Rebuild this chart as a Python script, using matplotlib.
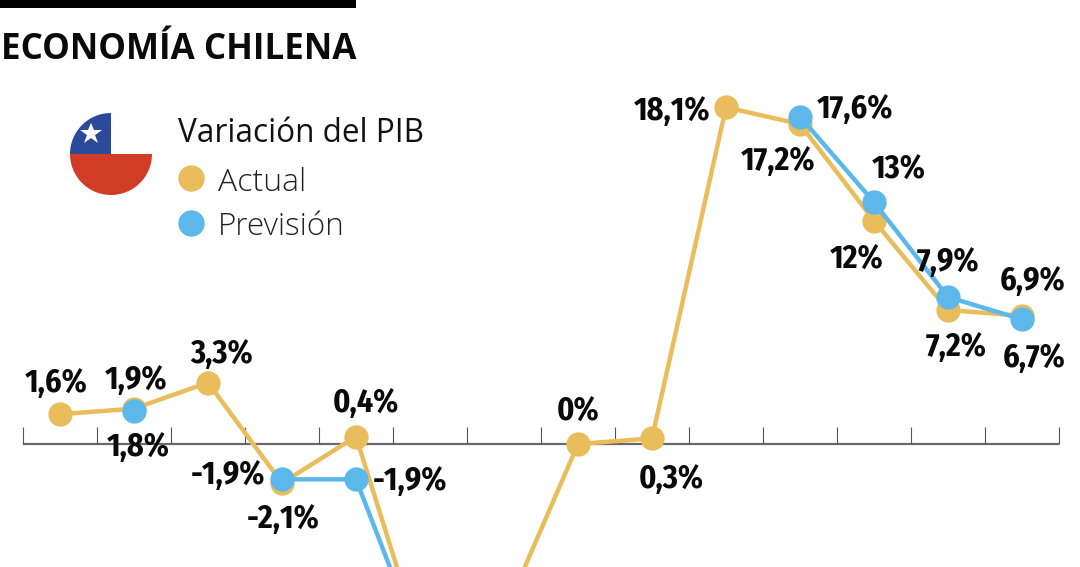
import numpy as np
import matplotlib
matplotlib.use("Agg")
import matplotlib.pyplot as plt
from matplotlib.patches import Wedge, Rectangle

# Variacion trimestral del PIB, datos observados y prevision
actual = [1.6, 1.9, 3.3, -2.1, 0.4, -12.3, -9.2, 0, 0.3, 18.1, 17.2, 12, 7.2, 6.9]
prevision = [np.nan, 1.8, np.nan, -1.9, -1.9, -12.2, np.nan, np.nan, np.nan, np.nan, 17.6, 13, 7.9, 6.7]

titulo = "ECONOMÍA CHILENA"
leyenda_titulo = "Variación del PIB"
nombre_actual = "Actual"
nombre_prevision = "Previsión"

# Indices con etiqueta y su desplazamiento en pixeles (x, y hacia abajo)
offs_actual = {0: (-4, -33), 1: (2, -31), 2: (14, -31), 3: (1.5, 34), 4: (10, -36),
               7: (0, -34), 8: (19, 39), 9: (-54, 2), 10: (-22, 35), 11: (-17, 37),
               12: (8, 35), 13: (11, -37)}
offs_prevision = {1: (4, 34), 3: (-54, -6), 4: (53.5, 0), 10: (55, -10), 11: (25, -34),
                  12: (0, -37), 13: (12, 37)}

AMARILLO = "#e9bd5c"
AZUL = "#5cb8ea"
GRIS = "#6a6a6a"
fuente_num = ["Fira Sans Condensed", "Liberation Sans"]

fig = plt.figure(figsize=(10.8, 5.67), dpi=100)
fig.patch.set_facecolor("white")

# Eje principal: 74 px por trimestre, 18.6 px por punto porcentual
ax = fig.add_axes([0, 0, 1, 1])
ax.set_xlim(-60 / 74, (1080 - 60) / 74)
ax.set_ylim(-(567 - 444) / 18.6, 444 / 18.6)
ax.axis("off")

n = len(actual)
bordes = np.arange(n + 1) - 0.5
ax.plot([bordes[0], bordes[-1]], [0, 0], color=GRIS, lw=1.6, zorder=1, solid_capstyle="butt")
ax.vlines(bordes, 0, 17 / 18.6, color="#555555", lw=0.8, zorder=1)

x = np.arange(n)
ax.plot(x, actual, color=AMARILLO, lw=3.2, marker="o", ms=17.5, mew=0, zorder=2)
ax.plot(x, prevision, color=AZUL, lw=3.2, marker="o", ms=17.5, mew=0, zorder=3)


def etiqueta(valor):
    return f"{valor:g}".replace(".", ",") + "%"


for serie, offs in [(actual, offs_actual), (prevision, offs_prevision)]:
    for i, (dx, dy) in offs.items():
        ax.annotate(etiqueta(serie[i]), (i, serie[i]), xytext=(dx, -(dy + 11)),
                    textcoords="offset pixels", ha="center", va="baseline",
                    fontsize=23, fontweight="bold", family=fuente_num, color="#0a0a0a", zorder=4)

# Capa en pixeles para la cabecera, la bandera y la leyenda
deco = fig.add_axes([0, 0, 1, 1])
deco.set_xlim(0, 1080)
deco.set_ylim(567, 0)
deco.axis("off")
deco.patch.set_alpha(0)

deco.add_patch(Rectangle((0, 0), 356, 8, color="black", lw=0))
deco.text(1, 59, titulo, fontsize=25.2, fontweight="bold", family="Open Sans",
          color="#0a0a0a", ha="left", va="baseline")

deco.add_patch(Wedge((111, 154), 41, 0, 180, color="#d13c26", lw=0))
deco.add_patch(Wedge((111, 154), 41, 180, 270, color="#2b4a9b", lw=0))
deco.plot([91], [134], marker="*", ms=16.5, color="white", mew=0)

deco.text(178, 142, leyenda_titulo, fontsize=22.7, family="Open Sans", color="#111111",
          ha="left", va="baseline")
deco.plot([191], [178], marker="o", ms=19, color=AMARILLO, mew=0)
deco.plot([191], [223], marker="o", ms=19, color=AZUL, mew=0)
deco.text(218, 191, nombre_actual, fontsize=23, family="Open Sans", fontweight="light",
          color="#222222", ha="left", va="baseline")
deco.text(218, 235, nombre_prevision, fontsize=22.6, family="Open Sans", fontweight="light",
          color="#222222", ha="left", va="baseline")

fig.savefig("out.png", dpi=100)
